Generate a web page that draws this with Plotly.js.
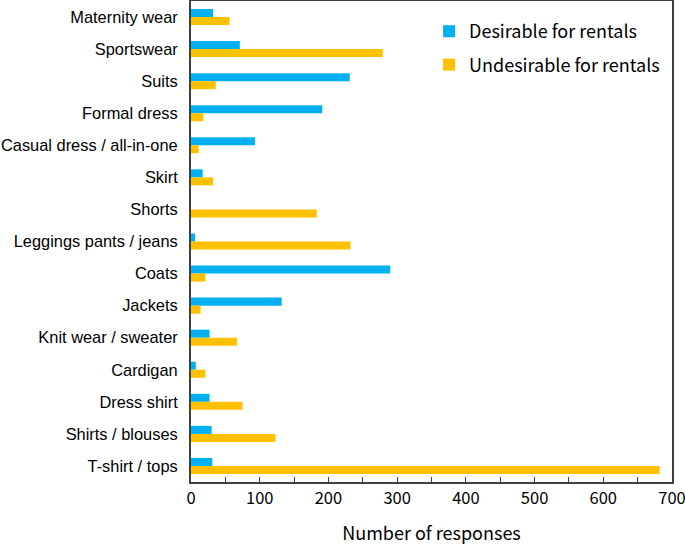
<!DOCTYPE html>
<html>
<head>
<meta charset="utf-8">
<script src="https://cdn.plot.ly/plotly-3.0.1.min.js"></script>
<style>html,body{margin:0;padding:0;background:#fff;}#chart{width:685px;height:545px;}</style>
</head>
<body>
<div id="chart"></div>
<script>
const categories = ["Maternity wear","Sportswear","Suits","Formal dress","Casual dress / all-in-one","Skirt","Shorts","Leggings pants / jeans","Coats","Jackets","Knit wear / sweater","Cardigan","Dress shirt","Shirts / blouses","T-shirt / tops"];
const desirable = [32, 71, 231, 191, 93, 17, 0, 6, 290, 132, 27, 7, 27, 30, 31];
const undesirable = [56, 279, 36, 18, 11, 32, 183, 232, 21, 14, 67, 21, 75, 123, 682];
const xTicks = [0,100,200,300,400,500,600,700];

const traces = [
  {type:'bar', orientation:'h', name:'Desirable for rentals', y:categories, x:desirable,
   marker:{color:'#00B0F0'}, legendgroup:'a'},
  {type:'bar', orientation:'h', name:'Undesirable for rentals', y:categories, x:undesirable,
   marker:{color:'#FFC000'}, legendgroup:'b'}
];
const layout = {
  width:685, height:545,
  margin:{l:191, r:13, t:1, b:63, autoexpand:false},
  barmode:'group', bargap:0.5, bargroupgap:0,
  paper_bgcolor:'#fff', plot_bgcolor:'#fff',
  font:{family:'"Noto Sans CJK JP", sans-serif', color:'#000'},
  xaxis:{range:[0,700], tickvals:xTicks, ticktext:xTicks.map(String), ticks:'inside', ticklen:5,
    tickcolor:'#404040', showgrid:false, zeroline:false, showline:true, linecolor:'#404040', linewidth:2, mirror:true,
    minor:{dtick:50, ticks:'inside', ticklen:5, tickcolor:'#404040', showgrid:false},
    ticklabeloverflow:'allow', automargin:false,
    tickfont:{size:16.5, family:'"Noto Sans CJK JP", sans-serif'},
    title:{text:'Number of responses', font:{size:18, family:'"Noto Sans CJK JP", sans-serif'}, standoff:20}},
  yaxis:{autorange:'reversed', type:'category', ticks:'', showgrid:false, zeroline:false, showline:true,
    linecolor:'#404040', linewidth:2, mirror:true, ticklabelstandoff:8, automargin:false,
    tickfont:{size:16.4, family:'"Liberation Sans", Arial, sans-serif'}},
  legend:{x:0.495, y:0.975, xanchor:'left', yanchor:'top', bgcolor:'rgba(0,0,0,0)',
    font:{size:18}, traceorder:'grouped', tracegroupgap:7, itemwidth:30},
  showlegend:true
};
Plotly.newPlot('chart', traces, layout, {displayModeBar:false, staticPlot:true});
</script>
</body>
</html>
